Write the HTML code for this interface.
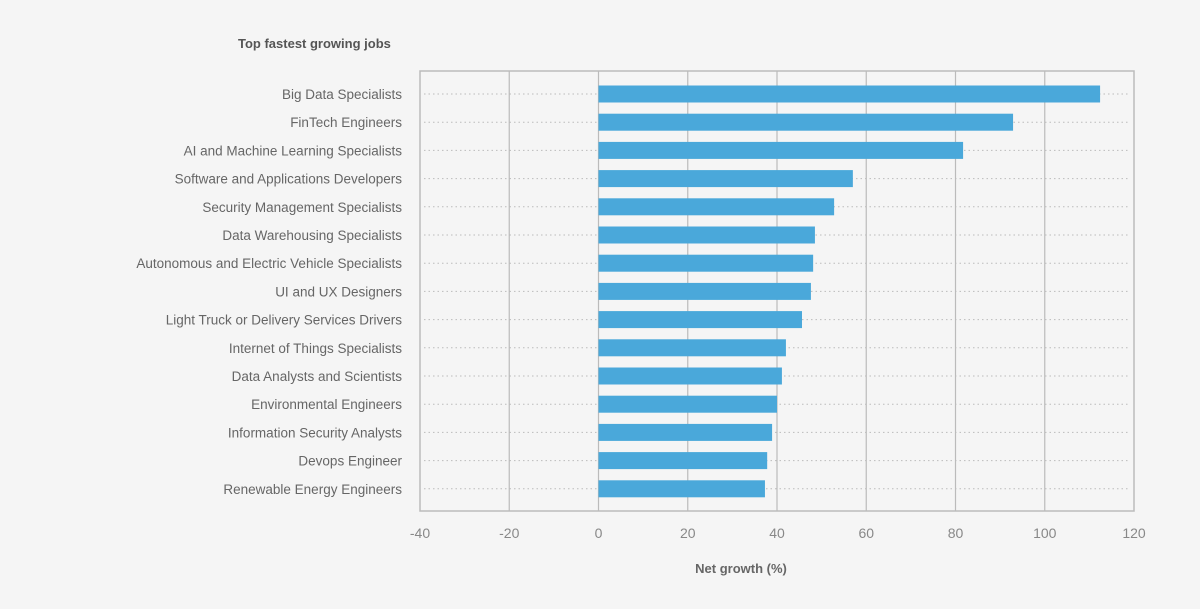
<!DOCTYPE html>
<html><head><meta charset="utf-8"><style>
body{margin:0;background:#f5f5f5;}
svg{display:block;font-family:"Liberation Sans",sans-serif;}
</style></head><body>
<svg id="c" width="1200" height="609">
<rect width="1200" height="609" fill="#f5f5f5"/>
<text x="238" y="48" font-size="13" font-weight="bold" fill="#555">Top fastest growing jobs</text>
<text x="741" y="573" font-size="13" font-weight="bold" fill="#666" text-anchor="middle">Net growth (%)</text>
<g id="g"></g>
</svg>
<script>
const categories=["Big Data Specialists","FinTech Engineers","AI and Machine Learning Specialists","Software and Applications Developers","Security Management Specialists","Data Warehousing Specialists","Autonomous and Electric Vehicle Specialists","UI and UX Designers","Light Truck or Delivery Services Drivers","Internet of Things Specialists","Data Analysts and Scientists","Environmental Engineers","Information Security Analysts","Devops Engineer","Renewable Energy Engineers"];
const values=[112.4,92.9,81.7,57.0,52.8,48.5,48.1,47.6,45.6,42.0,41.1,40.0,38.9,37.8,37.3];
const ticks=[-40,-20,0,20,40,60,80,100,120];
const L=420,R=1134,T=71,B=511,xmin=-40,xmax=120;
const x=v=>L+(v-xmin)/(xmax-xmin)*(R-L);
const rowY=i=>94+i*28.2;
const g=document.getElementById('g');const NS='http://www.w3.org/2000/svg';
function mk(t,a,p){const e=document.createElementNS(NS,t);for(const k in a)e.setAttribute(k,a[k]);(p||g).appendChild(e);return e;}
let f=mk('rect',{x:L,y:T,width:R-L,height:B-T,fill:'none',stroke:'#bbb','stroke-width':1.5});


ticks.forEach(t=>{
  if(t>xmin&&t<xmax){let l=mk('line',{x1:x(t),x2:x(t),y1:T,y2:B,stroke:'#bbb','stroke-width':1.2});
  
  }
  let tx=mk('text',{x:x(t),y:538,'font-size':14,fill:'#888','text-anchor':'middle'});tx.textContent=t;
  
  
});
categories.forEach((c,i)=>{
  const y=rowY(i);
  let d=mk('line',{x1:L+4,x2:R-4,y1:y,y2:y,stroke:'#bbb','stroke-width':1,'stroke-dasharray':'1.5,3'});
  
  
  let lb=mk('text',{x:402,y:y+5,'font-size':13.5,fill:'#666','text-anchor':'end'});lb.textContent=c;
  
  
  let b=mk('rect',{x:x(0),y:y-8.5,width:x(values[i])-x(0),height:17,fill:'#4aa8da'});
  
  
});
</script>
</body></html>
